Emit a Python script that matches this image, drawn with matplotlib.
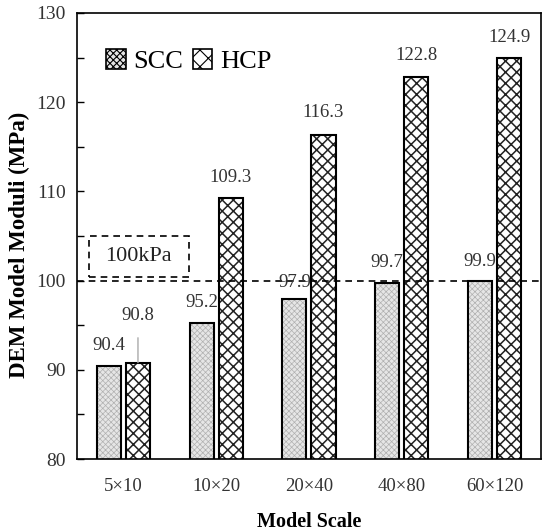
import matplotlib.pyplot as plt
import numpy as np
from matplotlib.patches import Rectangle

plt.rcParams['font.family'] = ['Liberation Serif', 'DejaVu Serif']

scales = ['5×10', '10×20', '20×40', '40×80', '60×120']
scc = [90.4, 95.2, 97.9, 99.7, 99.9]
hcp = [90.8, 109.3, 116.3, 122.8, 124.9]
ref_level = 100.0

# label offsets above the bar tops (data units)
scc_off = [2.3, 2.3, 1.9, 2.3, 2.2]
hcp_off = [5.3, 2.3, 2.5, 2.4, 2.4]

x = np.arange(len(scales))
w = 0.26
d = 0.157

fig = plt.figure(figsize=(5.5, 5.32), dpi=100)
ax = fig.add_axes([0.14, 0.1372, 0.8436, 0.8384])

# SCC: light grey fine pattern
plt.rcParams['hatch.linewidth'] = 0.5
ax.bar(x - d, scc, w, color='#e6e6e6', edgecolor='#b0b0b0',
       hatch='xxxxxx', linewidth=0, zorder=2)
ax.bar(x - d, scc, w, color='none', edgecolor='black', linewidth=1.5, zorder=3)

# HCP: cross hatch
plt.rcParams['hatch.linewidth'] = 1.1
ax.bar(x + d, hcp, w, color='white', edgecolor='#222222', hatch='xxx',
       linewidth=0, zorder=2)
ax.bar(x + d, hcp, w, color='none', edgecolor='black', linewidth=1.5, zorder=3)

ax.axhline(ref_level, color='black', linestyle=(0, (4, 3)), linewidth=1.2, zorder=4)

lab_kw = dict(ha='center', va='center', fontsize=13.5, color='#333333')
for i in range(len(scales)):
    ax.text(x[i] - d, scc[i] + scc_off[i], '%.1f' % scc[i], zorder=5, **lab_kw)
    if i == 0:
        ax.annotate('%.1f' % hcp[i], xy=(x[i] + d, hcp[i]),
                    xytext=(x[i] + d, hcp[i] + hcp_off[i]),
                    arrowprops=dict(arrowstyle='-', color='#aaaaaa', lw=1,
                                    shrinkA=8, shrinkB=0),
                    zorder=5, **lab_kw)
    else:
        ax.text(x[i] + d, hcp[i] + hcp_off[i], '%.1f' % hcp[i], zorder=5, **lab_kw)

# dashed box with the 100kPa note
ax.add_patch(Rectangle((0.025, 0.408), 0.216, 0.092, transform=ax.transAxes,
                       fill=False, linestyle=(0, (4, 3)), linewidth=1.2,
                       edgecolor='black', zorder=4))
ax.text(0.133, 0.454, '100kPa', transform=ax.transAxes, ha='center',
        va='center', fontsize=16, color='#222222')

ax.set_xlim(-0.5, len(scales) - 0.5)
ax.set_ylim(80, 130)
ax.set_yticks(np.arange(80, 131, 10))
ax.set_yticks(np.arange(85, 130, 10), minor=True)
ax.set_xticks(x)
ax.set_xticklabels(scales)
ax.tick_params(axis='y', which='both', direction='in', length=5, width=1,
               labelsize=14, labelcolor='#333333', pad=8)
ax.tick_params(axis='x', length=0, labelsize=13.5, labelcolor='#333333', pad=14)
for s in ax.spines.values():
    s.set_linewidth(1.2)

ax.set_xlabel('Model Scale', fontsize=14.5, fontweight='bold', labelpad=12)
ax.set_ylabel('DEM Model Moduli (MPa)', fontsize=16.5, fontweight='bold')
ax.yaxis.set_label_coords(-0.102, 0.48)

plt.rcParams['hatch.linewidth'] = 0.8
handles = [Rectangle((0, 0), 1, 1, facecolor='#e4e4e4', edgecolor='black',
                     hatch='xxxxx', linewidth=1.2),
           Rectangle((0, 0), 1, 1, facecolor='white', edgecolor='black',
                     hatch='xx', linewidth=1.2)]
ax.legend(handles, ['SCC', 'HCP'], loc='center left', ncol=2,
          bbox_to_anchor=(0.062, 0.892), frameon=False, fontsize=19,
          handlelength=0.75, handleheight=0.75, handletextpad=0.3,
          columnspacing=0.35, borderpad=0, borderaxespad=0)

fig.savefig('out.png', dpi=100)
